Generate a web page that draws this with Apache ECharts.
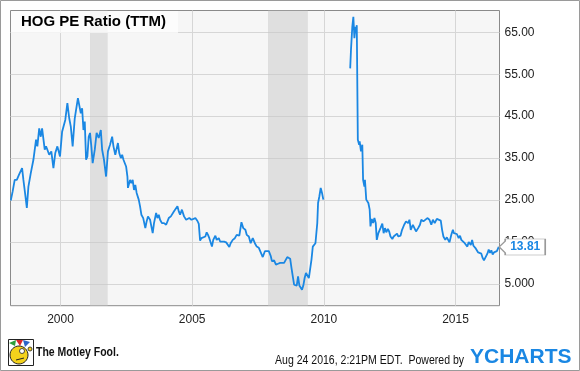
<!DOCTYPE html>
<html><head><meta charset="utf-8">
<script src="https://cdn.jsdelivr.net/npm/echarts@6/dist/echarts.min.js"></script>
<style>html,body{margin:0;padding:0;background:#fff;}#c{width:580px;height:371px;}</style>
</head><body><div id="c"></div>
<script>
// Decimal years and PE values, segment 1 (1998 - 2009)
const years1 = [1998.11,1998.18,1998.26,1998.34,1998.36,1998.42,1998.49,1998.54,1998.59,1998.66,1998.72,1998.78,1998.87,1998.97,1999.07,1999.12,1999.19,1999.25,1999.30,1999.40,1999.45,1999.50,1999.57,1999.65,1999.73,1999.80,1999.88,1999.98,2000.06,2000.13,2000.18,2000.26,2000.33,2000.39,2000.46,2000.54,2000.59,2000.66,2000.71,2000.77,2000.82,2000.87,2000.92,2000.97,2001.02,2001.07,2001.12,2001.17,2001.22,2001.30,2001.37,2001.45,2001.53,2001.58,2001.65,2001.73,2001.80,2001.88,2001.96,2002.01,2002.08,2002.13,2002.18,2002.23,2002.29,2002.34,2002.39,2002.44,2002.49,2002.54,2002.56,2002.64,2002.69,2002.74,2002.79,2002.84,2002.89,2002.97,2003.02,2003.07,2003.14,2003.22,2003.27,2003.32,2003.40,2003.45,2003.50,2003.55,2003.63,2003.68,2003.73,2003.78,2003.85,2003.93,2004.01,2004.06,2004.11,2004.19,2004.26,2004.31,2004.36,2004.44,2004.49,2004.54,2004.61,2004.69,2004.77,2004.82,2004.89,2004.97,2005.04,2005.12,2005.20,2005.25,2005.30,2005.35,2005.42,2005.50,2005.55,2005.60,2005.65,2005.70,2005.75,2005.80,2005.88,2005.93,2006.01,2006.06,2006.13,2006.21,2006.29,2006.36,2006.41,2006.46,2006.54,2006.62,2006.69,2006.74,2006.79,2006.87,2006.94,2007.02,2007.07,2007.15,2007.22,2007.30,2007.38,2007.45,2007.53,2007.60,2007.68,2007.76,2007.83,2007.91,2007.98,2008.03,2008.11,2008.18,2008.26,2008.34,2008.41,2008.49,2008.56,2008.61,2008.67,2008.72,2008.77,2008.82,2008.87,2008.92,2008.97,2009.02,2009.07,2009.12,2009.17,2009.22,2009.27,2009.32,2009.37,2009.43,2009.48,2009.53,2009.58,2009.63,2009.68,2009.73,2009.75,2009.78,2009.83,2009.88,2009.93,2009.98];
const pe1 = [24.9,27.0,29.8,29.8,29.4,31.0,31.4,32.6,29.8,26.3,23.1,28.2,31.4,34.6,39.4,37.8,42.1,40.1,42.1,37.0,37.8,37.0,35.8,36.6,32.6,36.2,37.8,35.4,41.3,41.0,44.1,48.1,44.5,42.5,37.8,44.5,44.9,49.3,48.9,45.7,46.9,41.7,43.7,34.6,35.4,40.1,41.0,37.8,33.8,37.0,41.0,39.8,41.7,37.0,34.6,30.6,36.6,38.2,40.1,37.8,35.8,35.4,38.6,36.2,35.0,35.8,34.6,35.0,33.0,30.6,27.9,29.8,29.0,29.8,27.4,28.6,26.7,25.1,23.5,21.5,20.7,18.3,19.9,21.1,20.3,19.9,17.1,19.5,21.9,20.7,21.5,20.3,19.5,19.5,19.1,18.7,20.7,21.1,21.5,22.3,21.9,23.5,22.3,21.5,22.7,21.1,20.3,19.9,20.7,20.3,20.3,20.7,20.0,19.3,15.3,15.9,15.7,16.3,17.3,16.7,15.9,16.3,13.9,15.5,16.5,15.5,15.9,15.1,15.5,15.1,14.9,14.5,13.8,14.7,15.5,15.9,16.7,17.1,16.5,19.7,18.3,17.9,16.7,16.3,14.7,15.9,14.7,13.9,13.6,13.2,11.4,12.8,12.4,12.8,11.7,10.4,10.6,9.6,9.8,10.0,10.0,10.0,10.4,11.4,11.6,11.0,8.8,6.8,4.8,5.0,4.6,6.8,4.6,4.4,3.6,4.6,6.4,7.6,7.2,6.4,6.0,10.8,13.9,13.6,14.7,14.4,19.5,24.3,25.9,27.9,26.7,25.1];
// Segment 2 (2011 - 2016)
const years2 = [2011.00,2011.03,2011.08,2011.12,2011.16,2011.20,2011.22,2011.25,2011.29,2011.34,2011.36,2011.41,2011.46,2011.49,2011.54,2011.56,2011.61,2011.69,2011.74,2011.77,2011.82,2011.87,2011.92,2011.97,2012.01,2012.07,2012.15,2012.22,2012.27,2012.32,2012.37,2012.43,2012.48,2012.53,2012.60,2012.65,2012.70,2012.78,2012.83,2012.91,2012.97,2013.05,2013.12,2013.20,2013.25,2013.30,2013.38,2013.43,2013.50,2013.58,2013.65,2013.70,2013.78,2013.85,2013.93,2014.01,2014.08,2014.14,2014.21,2014.29,2014.36,2014.44,2014.49,2014.54,2014.61,2014.67,2014.72,2014.77,2014.84,2014.90,2014.94,2014.99,2015.05,2015.12,2015.17,2015.22,2015.28,2015.35,2015.40,2015.45,2015.50,2015.58,2015.63,2015.68,2015.75,2015.81,2015.86,2015.91,2015.98,2016.03,2016.08,2016.13,2016.21,2016.26,2016.31,2016.36,2016.41,2016.46,2016.51,2016.57,2016.64];
const pe2 = [56.4,60.8,66.3,68.7,63.6,66.3,64.8,66.7,39.4,38.2,39.0,36.6,38.2,29.8,28.2,29.8,25.1,24.3,22.7,18.7,20.5,19.5,20.7,19.5,15.5,17.1,18.3,19.4,17.1,18.3,17.3,18.1,17.5,16.3,15.7,16.3,15.9,17.0,16.3,16.5,17.9,19.1,19.9,19.5,20.3,17.9,19.1,19.5,17.5,18.3,19.1,20.3,19.9,20.3,20.7,20.3,19.1,20.3,19.5,20.5,20.5,20.1,17.9,16.3,15.5,16.1,15.9,14.9,16.7,17.9,17.1,17.5,16.9,15.9,16.5,15.5,15.7,14.7,14.3,13.9,15.0,14.3,15.5,14.1,13.6,13.2,12.5,12.8,12.2,11.2,10.6,10.8,12.2,13.2,12.4,13.0,12.0,12.5,12.5,12.8,13.81];
const recessions = [[2001.12, 2001.79], [2007.88, 2009.39]];
const yTicks = [5, 15, 25, 35, 45, 55, 65];
const xTicks = [2000, 2005, 2010, 2015];
const lastValue = '13.81';
const titleText = 'HOG PE Ratio (TTM)';
const stampText = 'Aug 24 2016, 2:21PM EDT.  Powered by';

const seriesData = years1.map((y, i) => [y, pe1[i]])
  .concat([[2010.5, null]])
  .concat(years2.map((y, i) => [y, pe2[i]]));
const lastPoint = [years2[years2.length - 1], pe2[pe2.length - 1]];

const blue = '#1a87e3';
const chart = echarts.init(document.getElementById('c'), null, {renderer: 'canvas'});
chart.setOption({
  animation: false,
  backgroundColor: '#fff',
  grid: {left: 10.5, right: 80.5, top: 10.5, bottom: 65.3, show: true,
         backgroundColor: '#f6f6f6', borderColor: '#8a8a8a', borderWidth: 1},
  xAxis: {
    type: 'value', min: 1998.1, max: 2016.67,
    axisLine: {show: false},
    axisTick: {show: false, customValues: xTicks},
    axisLabel: {customValues: xTicks, color: '#222', fontSize: 12,
                fontFamily: 'Liberation Sans, Arial, sans-serif', margin: 8,
                formatter: v => String(v)},
    splitLine: {show: true, lineStyle: {color: '#d6d6d6', width: 1}}
  },
  yAxis: {
    type: 'value', position: 'right', min: -0.2, max: 70.2,
    axisLine: {show: false},
    axisTick: {show: false, customValues: yTicks},
    axisLabel: {customValues: yTicks, color: '#222', fontSize: 12,
                fontFamily: 'Liberation Sans, Arial, sans-serif', margin: 5,
                formatter: v => v === 5 ? '5.000' : v.toFixed(2)},
    splitLine: {show: true, lineStyle: {color: '#d6d6d6', width: 1}}
  },
  series: [{
    type: 'line', data: seriesData, showSymbol: false, connectNulls: false,
    lineStyle: {color: blue, width: 1.8}, itemStyle: {color: blue},
    markArea: {silent: true, itemStyle: {color: 'rgba(200,200,200,0.5)'},
      data: recessions.map(r => [{xAxis: r[0]}, {xAxis: r[1]}])},
    markPoint: {
      silent: true,
      data: [{coord: lastPoint}],
      symbol: 'path://M0 7.5 L6 2 L6 0 L46 0 L46 15 L6 15 L6 13 Z',
      symbolSize: [46, 16], symbolOffset: [23.5, 0],
      itemStyle: {color: '#fff', borderColor: '#9a9a9a', borderWidth: 1},
      label: {show: true, formatter: lastValue, color: blue, fontWeight: 'bold',
              fontSize: 12, fontFamily: 'Liberation Sans, Arial, sans-serif',
              position: 'inside', offset: [3, 0]}
    }
  }],
  graphic: [
    {type: 'rect', shape: {x: 11, y: 11, width: 167, height: 22},
     style: {fill: 'rgba(255,255,255,0.7)'}, z: 10},
    {type: 'text', x: 21, y: 22, z: 11,
     style: {text: titleText, fill: '#000', font: 'bold 15px "Liberation Sans", Arial, sans-serif',
             verticalAlign: 'middle'}},
    {type: 'rect', shape: {x: 0.5, y: 0.5, width: 579, height: 370},
     style: {fill: 'none', stroke: '#9a9a9a', lineWidth: 1}, z: 20},
    // Motley Fool logo (simplified jester)
    {type: 'group', x: 8, y: 339, z: 12, children: [
      {type: 'rect', shape: {x: 0.5, y: 0.5, width: 25, height: 26}, style: {fill: '#fff', stroke: '#222', lineWidth: 1}},
      {type: 'polygon', shape: {points: [[1,4],[8,1],[7,7]]}, style: {fill: '#2e9d3a'}},
      {type: 'polygon', shape: {points: [[8,1],[15,1],[12,7]]}, style: {fill: '#d8262c'}},
      {type: 'polygon', shape: {points: [[15,1],[22,3],[17,8]]}, style: {fill: '#2a63c8'}},
      {type: 'ellipse', shape: {cx: 11, cy: 16, rx: 9, ry: 9}, style: {fill: '#f4d21c', stroke: '#222', lineWidth: 1}},
      {type: 'circle', shape: {cx: 14, cy: 12, r: 2.5}, style: {fill: '#fff', stroke: '#222', lineWidth: 0.8}},
      {type: 'circle', shape: {cx: 22, cy: 10, r: 2}, style: {fill: '#f4d21c', stroke: '#222', lineWidth: 0.8}},
      {type: 'line', shape: {x1: 8, y1: 21, x2: 16, y2: 19}, style: {stroke: '#222', lineWidth: 1}}
    ]},
    {type: 'text', x: 36, y: 353, z: 12, scaleX: 0.84,
     style: {text: 'The Motley Fool.', fill: '#111', verticalAlign: 'middle',
             font: 'bold 12.5px "Liberation Sans", Arial, sans-serif'}},
    {type: 'text', x: 275, y: 360.5, z: 12, scaleX: 0.81,
     style: {text: stampText, fill: '#111', verticalAlign: 'middle',
             font: '13px "Liberation Sans", Arial, sans-serif'}},
    {type: 'text', x: 470, y: 357, z: 12,
     style: {text: 'YCHARTS', fill: blue, verticalAlign: 'middle',
             font: 'bold 21px "Liberation Sans", Arial, sans-serif'}}
  ]
});
</script></body></html>
